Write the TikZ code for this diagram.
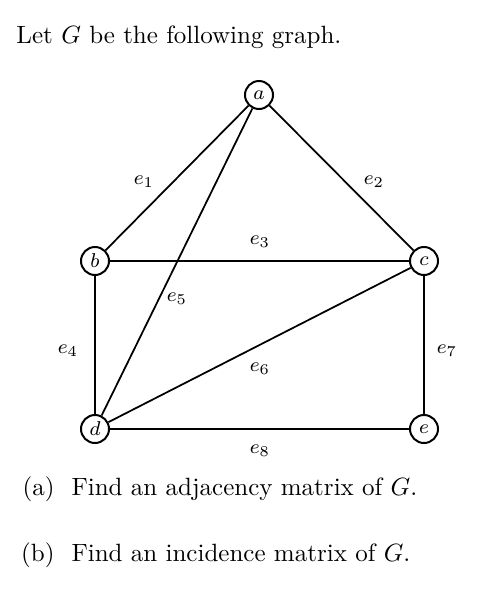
\documentclass[tikz,border=0pt]{standalone}
\begin{document}
\begin{tikzpicture}[x=0.4pt,y=-0.4pt,
  vtx/.style={draw,circle,line width=0.8pt,minimum size=11.2pt,inner sep=0pt,font=\footnotesize},
  edge/.style={line width=0.7pt},
  elab/.style={font=\footnotesize,inner sep=0pt},
  txt/.style={inner sep=0pt}]
\useasboundingbox (0,0) rectangle (501,601);
\node[txt,anchor=base west] (title) at (16,43) {Let $G$ be the following graph.};
\node[vtx] (a) at (259,95) {$a$};
\node[vtx] (b) at (95,261) {$b$};
\node[vtx] (c) at (424,261) {$c$};
\node[vtx] (d) at (95,429) {$d$};
\node[vtx] (e) at (424,429) {$e$};
\draw[edge] (a) -- (b);
\draw[edge] (a) -- (c);
\draw[edge] (b) -- (c);
\draw[edge] (b) -- (d);
\draw[edge] (a) -- (d);
\draw[edge] (c) -- (d);
\draw[edge] (c) -- (e);
\draw[edge] (d) -- (e);
\node[elab] (l1) at (144,182) {$e_1$};
\node[elab] (l2) at (374,182) {$e_2$};
\node[elab] (l3) at (260,242) {$e_3$};
\node[elab] (l4) at (68,351) {$e_4$};
\node[elab] (l5) at (177,299) {$e_5$};
\node[elab] (l6) at (260,369) {$e_6$};
\node[elab] (l7) at (447,351) {$e_7$};
\node[elab] (l8) at (260,451) {$e_8$};
\node[txt,anchor=base east] (qa) at (55,495) {(a)};
\node[txt,anchor=base west] (ta) at (71,495) {Find an adjacency matrix of $G$.};
\node[txt,anchor=base east] (qb) at (55,561) {(b)};
\node[txt,anchor=base west] (tb) at (71,561) {Find an incidence matrix of $G$.};
\end{tikzpicture}
\end{document}
